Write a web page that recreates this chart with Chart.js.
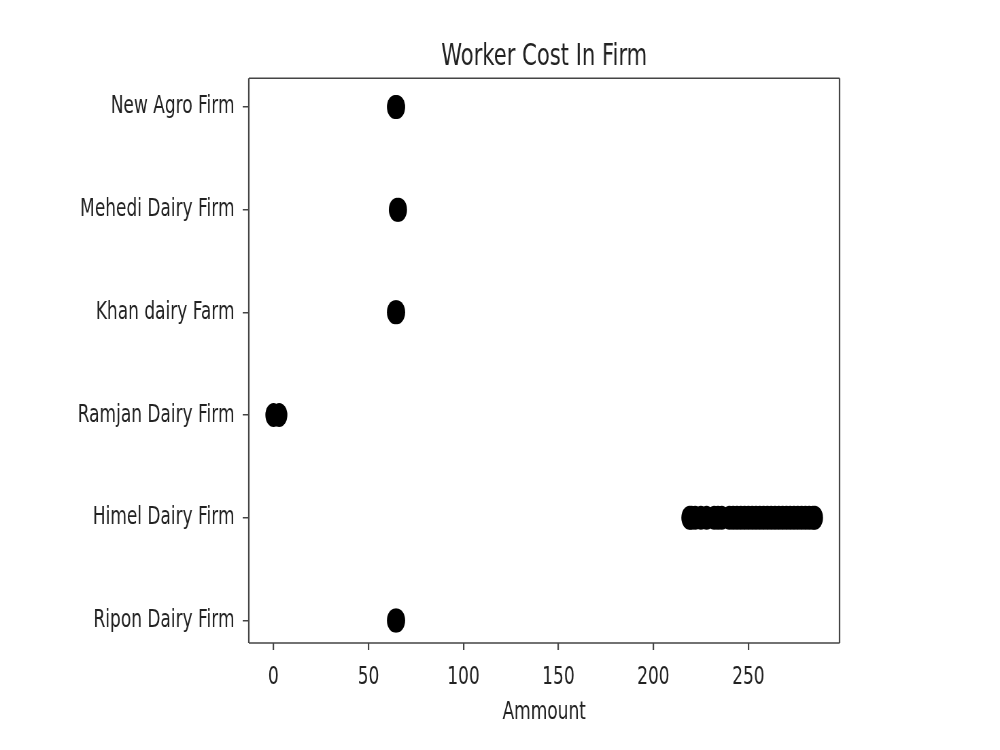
<!DOCTYPE html>
<html>
<head>
<meta charset="utf-8">
<title>Worker Cost In Firm</title>
<script src="https://cdn.jsdelivr.net/npm/chart.js@4/dist/chart.umd.min.js"></script>
<style>
  html, body { margin: 0; padding: 0; background: #fff; overflow: hidden; }
  /* the reference image is squeezed horizontally, so the chart is drawn wide and scaled back */
  #wrap { width: 1471px; height: 750px; transform: scale(0.6798, 1); transform-origin: 0 0; }
</style>
</head>
<body>
<div id="wrap"><canvas id="c"></canvas></div>
<script>
// ── data ────────────────────────────────────────────────────────────────────
// bottom to top, as on the y axis
var firms = ["Ripon Dairy Firm", "Himel Dairy Firm", "Ramjan Dairy Firm",
             "Khan dairy Farm", "Mehedi Dairy Firm", "New Agro Firm"];

var riponCost  = [64, 65];
var himelCost  = [219, 220, 222, 225, 228, 232, 234, 236, 240, 242, 244, 246, 248,
                  250, 252, 254, 256, 258, 260, 262, 264, 266, 268, 270, 272, 274,
                  276, 278, 280, 282, 284, 285];
var ramjanCost = [0, 3];
var khanCost   = [64, 65];
var mehediCost = [65, 66];
var agroCost   = [64, 65];

var xTicks = [0, 50, 100, 150, 200, 250];

var SX = 0.6798;          // horizontal squeeze applied to #wrap
var INK = "#444";
var FONT = "'DejaVu Sans', sans-serif";

// ── build points ────────────────────────────────────────────────────────────
var costs = [riponCost, himelCost, ramjanCost, khanCost, mehediCost, agroCost];
var points = [];
costs.forEach(function (list, i) {
  list.forEach(function (v) { points.push({ x: v, y: i }); });
});

// frame round the plot area (vertical strokes thicker to survive the squeeze)
var framePlugin = {
  id: "frame",
  afterDraw: function (chart) {
    var a = chart.chartArea, ctx = chart.ctx;
    ctx.save();
    ctx.strokeStyle = INK;
    ctx.lineWidth = 1.5;
    ctx.beginPath();
    ctx.moveTo(a.left, a.top); ctx.lineTo(a.right, a.top);
    ctx.moveTo(a.left, a.bottom); ctx.lineTo(a.right, a.bottom);
    ctx.stroke();
    ctx.lineWidth = 1.5 / SX;
    ctx.beginPath();
    ctx.moveTo(a.left, a.top); ctx.lineTo(a.left, a.bottom);
    ctx.moveTo(a.right, a.top); ctx.lineTo(a.right, a.bottom);
    ctx.stroke();
    ctx.restore();
  }
};

new Chart(document.getElementById("c"), {
  type: "scatter",
  data: {
    datasets: [{
      data: points,
      backgroundColor: "#000",
      borderColor: "#000",
      pointRadius: 12,
      pointHoverRadius: 12,
      borderWidth: 0
    }]
  },
  plugins: [framePlugin],
  options: {
    responsive: true,
    maintainAspectRatio: false,
    devicePixelRatio: 1,
    animation: false,
    layout: { padding: { left: 0, right: 236, top: 0, bottom: 0 } },
    plugins: {
      legend: { display: false },
      tooltip: { enabled: false },
      title: {
        display: true,
        text: "Worker Cost In Firm",
        fullSize: false,
        color: "#222",
        font: { family: FONT, size: 31, weight: "normal" },
        padding: { top: 38, bottom: 3 }
      }
    },
    scales: {
      x: {
        type: "linear",
        min: -13, max: 298,
        afterBuildTicks: function (s) { s.ticks = xTicks.map(function (v) { return { value: v }; }); },
        afterFit: function (s) { s.height = 107; },
        border: { display: false },
        grid: { drawOnChartArea: false, drawTicks: true, tickLength: 7, color: INK, lineWidth: 1.5 / SX },
        ticks: { color: "#222", padding: 12, maxRotation: 0, font: { family: FONT, size: 25 } },
        title: {
          display: true, text: "Ammount", color: "#222",
          font: { family: FONT, size: 25 }, padding: { top: 0, bottom: 23 }
        }
      },
      y: {
        type: "linear",
        min: -0.22, max: 5.28,
        afterBuildTicks: function (s) { s.ticks = firms.map(function (f, i) { return { value: i }; }); },
        afterFit: function (s) { s.width = 366; },
        border: { display: false },
        grid: { drawOnChartArea: false, drawTicks: true, tickLength: 9, color: INK, lineWidth: 1.5 },
        ticks: {
          color: "#222", padding: 12, font: { family: FONT, size: 25 },
          callback: function (v) { return firms[v]; }
        }
      }
    }
  }
});
</script>
</body>
</html>
